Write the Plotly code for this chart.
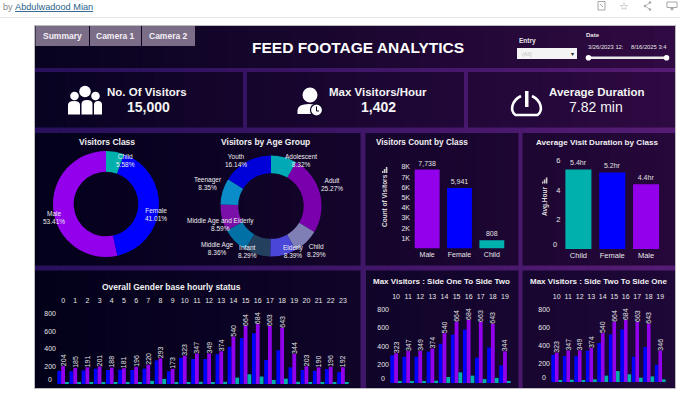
import plotly.graph_objects as go

W, H = 680, 393

# ---------- data ----------
kpi_titles = ["No. Of Visitors", "Max Visitors/Hour", "Average Duration"]
kpi_values = ["15,000", "1,402", "7.82 min"]
tabs = ["Summary", "Camera 1", "Camera 2"]

class_labels = ["Child", "Female", "Male"]
class_values = [5.58, 41.01, 53.41]

age_labels = ["Adolescent", "Adult", "Child", "Elderly", "Infant", "Middle Age",
              "Middle Age and Elderly", "Teenager", "Youth"]
age_values = [8.32, 25.27, 8.29, 8.39, 8.29, 8.36, 8.59, 8.35, 16.14]

count_cats = ["Male", "Female", "Child"]
count_vals = [7738, 5941, 808]
count_ticks = [1000, 2000, 3000, 4000, 5000, 6000, 7000, 8000]
count_ticktext = ["1K", "2K", "3K", "4K", "5K", "6K", "7K", "8K"]

dur_cats = ["Child", "Female", "Male"]
dur_vals = [5.4, 5.2, 4.4]
dur_text = ["5.4hr", "5.2hr", "4.4hr"]

hours = list(range(24))
male_hourly = [204, 185, 191, 201, 188, 181, 196, 220, 293, 173, 323, 347, 349, 374,
               540, 664, 684, 663, 643, 344, 203, 190, 196, 192]
female_hourly = [150, 145, 155, 175, 160, 165, 160, 175, 270, 145, 300, 285, 285, 340,
                 425, 525, 580, 275, 385, 190, 160, 150, 170, 135]
child_hourly = [20, 12, 15, 22, 22, 22, 18, 35, 58, 15, 15, 25, 15, 25,
                73, 111, 85, 46, 61, 25, 22, 12, 20, 18]

side_hours = list(range(10, 20))
side1_male = [323, 347, 349, 374, 540, 664, 684, 663, 643, 344]
side1_female = [300, 285, 285, 340, 425, 525, 580, 275, 385, 190]
side1_child = [15, 22, 15, 25, 65, 115, 80, 42, 55, 22]
side2_male = [323, 347, 349, 374, 540, 664, 684, 663, 643, 346]
side2_female = [300, 285, 285, 345, 430, 525, 580, 280, 385, 190]
side2_child = [18, 25, 18, 29, 70, 121, 85, 48, 62, 29]

PURPLE = "#9200ec"
BLUE = "#0000ff"
TEAL = "#00b0ad"
age_colors = ["#00a9b5", "#7a00ad", "#7f7fb5", "#4a46d8", "#24405f",
              "#0070a5", "#7b10a8", "#0a8cc9", "#0000d8"]
FONT = "Liberation Sans"
TXT = "#e6e6e6"


def X(p):
    return p / W


def Y(p):
    return 1 - p / H


fig = go.Figure()
shapes, ann = [], []


def rect(x0, y0, x1, y1, color, line=None, layer="below"):
    shapes.append(dict(type="rect", xref="paper", yref="paper", x0=X(x0), x1=X(x1), y0=Y(y1), y1=Y(y0),
                       fillcolor=color, line=dict(width=1 if line else 0, color=line), layer=layer))


def seg(x0, y0, x1, y1, color, lw=1):
    shapes.append(dict(type="line", xref="paper", yref="paper", x0=X(x0), x1=X(x1), y0=Y(y0), y1=Y(y1),
                       line=dict(color=color, width=lw)))


def path(points_str, fill="#ffffff", line=None, lw=0):
    shapes.append(dict(type="path", xref="paper", yref="paper", path=points_str,
                       fillcolor=fill, line=dict(width=lw, color=line or "rgba(0,0,0,0)")))


def P(x, y):
    return f"{X(x):.5f},{Y(y):.5f}"


def text(x, y, s, size=10, color=TXT, bold=False, anchor="center", angle=0):
    ann.append(dict(xref="paper", yref="paper", x=X(x), y=Y(y), text=f"<b>{s}</b>" if bold else s,
                    showarrow=False, xanchor=anchor, yanchor="middle", textangle=angle,
                    font=dict(family=FONT, size=size, color=color)))


def lerp(a, b, t):
    return "#%02x%02x%02x" % tuple(int(a[i] + (b[i] - a[i]) * t) for i in range(3))


def gradient(x0, y0, x1, y1, c0, c1, steps=24):
    for i in range(steps):
        t = i / (steps - 1)
        rect(x0 + (x1 - x0) * i / steps, y0,
             min(x1, x0 + (x1 - x0) * (i + 1) / steps + 0.6), y1, lerp(c0, c1, t))


def circle(cx, cy, r, color, line=None, lw=0):
    shapes.append(dict(type="circle", xref="paper", yref="paper", x0=X(cx - r), x1=X(cx + r),
                       y0=Y(cy + r), y1=Y(cy - r), fillcolor=color, line=dict(width=lw, color=line or color)))


L0, L1, T0, T1 = 35, 675, 26, 388
rect(L0 - 1, T0 - 1, L1 + 1, T1 + 1, "#bcbcbc")
gradient(L0, T0, L1, T1, (40, 16, 92), (86, 28, 116), 30)
gradient(L0, T0, L1, 68, (8, 4, 32), (48, 10, 66), 30)

row_right = {72: (46, 10, 66), 133: (38, 8, 58), 270: (30, 8, 56)}
row_left = {72: (9, 3, 34), 133: (3, 1, 28), 270: (3, 1, 26)}
panels = [(35, 72, 243, 127.5), (247, 72, 464, 127.5), (468, 72, 675, 127.5),
          (35, 133, 360.5, 265.5), (365.5, 133, 518.5, 265.5), (522.5, 133, 675, 265.5),
          (35, 270.5, 360.5, 388), (366, 270.5, 518.5, 388), (522.5, 270.5, 675, 388)]
for (a, b, c, d) in panels:
    key = 72 if b == 72 else 133 if b == 133 else 270
    t0, t1 = (a - L0) / (L1 - L0), (c - L0) / (L1 - L0)
    c0 = tuple(row_left[key][i] + (row_right[key][i] - row_left[key][i]) * t0 for i in range(3))
    c1 = tuple(row_left[key][i] + (row_right[key][i] - row_left[key][i]) * t1 for i in range(3))
    gradient(a, b, c, d, c0, c1, 14)

# page header
shapes.append(dict(type="line", xref="paper", yref="paper", x0=0, x1=1, y0=Y(17.5), y1=Y(17.5),
                   line=dict(color="#e3e3e3", width=1), layer="below"))
text(1, 7, "by", 9, "#888888", anchor="left")
ann.append(dict(xref="paper", yref="paper", x=X(13), y=Y(7), text="<u>Abdulwadood Mian</u>", showarrow=False,
                xanchor="left", yanchor="middle", font=dict(family=FONT, size=9.2, color="#2a5f8a")))
GREY = "#a6a6a6"
path(f"M{P(598, 1.5)} L{P(605, 1.5)} L{P(605, 10)} L{P(598, 10)} Z", fill="rgba(0,0,0,0)", line=GREY, lw=1)
seg(600, 4, 603, 7, GREY)
text(624, 6, "☆", 11, GREY)
circle(645, 6, 1.2, GREY)
circle(650, 2.5, 1.2, GREY)
circle(650, 9.5, 1.2, GREY)
seg(645, 6, 650, 2.5, GREY, 0.8)
seg(645, 6, 650, 9.5, GREY, 0.8)
path(f"M{P(667, 2)} L{P(677, 2)} L{P(677, 7.5)} L{P(667, 7.5)} Z", fill="rgba(0,0,0,0)", line=GREY, lw=1)
path(f"M{P(670, 8)} L{P(674, 8)} L{P(672, 11)} Z", fill=GREY)

# tabs
tabx = [(35.5, 89), (90, 141), (142, 195)]
for (a, b), s in zip(tabx, tabs):
    rect(a, 26, b, 46, "#7b6d87")
    text((a + b) / 2, 36, s, 8.5, "#f4f0f6", True)

text(357.5, 47, "FEED FOOTAGE ANALYTICS", 15.5, "#ffffff", True)
text(517, 41, "Entry", 6.5, TXT, True, "left")
rect(517, 48, 577, 59, "#f4f4f4")
text(520, 53.5, "(All)", 5.5, "#bbbbbb", anchor="left")
text(572, 53.5, "▾", 6, "#222222")
text(584, 35.5, "Date", 6, TXT, True, "left")
text(586, 47, "3/26/2023 12:", 5.8, TXT, anchor="left")
text(629, 47, "8/16/2025 3:4", 5.8, TXT, anchor="left")
rect(587, 56.5, 668, 59, "#e8e8e8")
circle(588.5, 57.7, 2.8, "#ffffff")
circle(666.5, 57.7, 2.8, "#ffffff")

# KPI text
for (x, s, v) in zip([147, 378, 596], kpi_titles, kpi_values):
    text(x, 92.5, s, 11.5, "#f4f4f4", True)
    text(x if x != 147 else 148.5, 107, v, 14, "#f4f4f4", v != "7.82 min")


def body(x0, x1, y0, y1):
    m = (x0 + x1) / 2
    path(f"M{P(x0, y1)} L{P(x0, y0 + 4)} Q{P(x0, y0)} {P(m, y0)} Q{P(x1, y0)} {P(x1, y0 + 4)} L{P(x1, y1)} Z")


# visitors icon
circle(85, 91.5, 5.8, "#ffffff")
circle(74.5, 96, 4.3, "#ffffff")
circle(95.5, 96, 4.3, "#ffffff")
body(68, 80, 101, 114.5)
body(81.5, 92.5, 100, 114.5)
body(94, 102, 101, 114.5)

# person with clock icon
circle(310, 95, 7.5, "#ffffff")
path(f"M{P(297.5, 114)} L{P(297.5, 110)} Q{P(298, 104)} {P(309, 104)} Q{P(320, 104)} {P(321, 110)} L{P(321, 114)} Z")
circle(316.5, 110, 6, "#ffffff", "#0d0424", 1.2)
seg(316.5, 111, 316.5, 106.5, "#0d0424")
seg(316.5, 111, 319, 111, "#0d0424")

# gauge icon
path(f"M{P(521, 96)} C{P(511, 101)} {P(510, 111)} {P(515.5, 115)} L{P(537.5, 115)} "
     f"C{P(543, 111)} {P(542, 101)} {P(532, 96)}", fill="rgba(0,0,0,0)", line="#ffffff", lw=2.6)
rect(525, 91, 528.5, 107, "#ffffff", layer="above")

# panel titles
text(106.5, 142, "Visitors Class", 8.5, "#f0f0f0", True)
text(265.5, 142, "Visitors by Age Group", 8.5, "#f0f0f0", True)
text(422, 142, "Visitors Count by Class", 8.2, "#f0f0f0", True)
text(596.5, 142, "Average Visit Duration by Class", 8.1, "#f0f0f0", True)
text(171, 287, "Overall Gender base hourly status", 8.5, "#f0f0f0", True)
text(441, 281.5, "Max Visitors : Side One To Side Two", 8, "#f0f0f0", True)
text(598, 281.5, "Max Visitors : Side Two To Side One", 8, "#f0f0f0", True)


def dom(x0, y0, x1, y1):
    return dict(x=[X(x0), X(x1)], y=[Y(y1), Y(y0)])


fig.add_trace(go.Pie(labels=class_labels, values=class_values, hole=0.61, sort=False, direction="clockwise",
                     rotation=0, marker=dict(colors=[TEAL, BLUE, PURPLE], line=dict(width=0)),
                     textinfo="none", domain=dom(53, 151, 159, 257), showlegend=False))
fig.add_trace(go.Pie(labels=age_labels, values=age_values, hole=0.65, sort=False, direction="clockwise",
                     rotation=0, marker=dict(colors=age_colors, line=dict(width=0)),
                     textinfo="none", domain=dom(220.5, 155.5, 321.5, 256.5), showlegend=False))

for x, y, l in [(125, 160, "Child<br>5.58%"), (156, 215, "Female<br>41.01%"), (54, 218, "Male<br>53.41%"),
                (300.5, 160, "Adolescent<br>8.32%"), (332, 185, "Adult<br>25.27%"), (316.5, 250, "Child<br>8.29%"),
                (293, 252, "Elderly<br>8.39%"), (247.5, 252, "Infant<br>8.29%"), (217.5, 249, "Middle Age<br>8.36%"),
                (220, 225, "Middle Age and Elderly<br>8.59%"), (207.5, 183, "Teenager<br>8.35%"),
                (235.5, 160, "Youth<br>16.14%")]:
    ann.append(dict(xref="paper", yref="paper", x=X(x), y=Y(y), text=l, showarrow=False, xanchor="center",
                    yanchor="middle", font=dict(family=FONT, size=6.5, color="#eeeeee")))

layout_axes = {}


def bar_panel(idx, x0, y0, x1, y1, cats, series, yr, ticks, ticktext=None, top_axis=False, width=None, fs=7):
    sx = "" if idx == 1 else str(idx)
    axis_font = dict(family=FONT, size=fs, color="#e6e6e6")
    for vals, color, txt, ta in series:
        fig.add_trace(go.Bar(x=cats, y=vals, marker=dict(color=color, line=dict(width=0)), text=txt, width=width,
                             textposition="outside" if txt is not None else None, textangle=ta,
                             cliponaxis=False, constraintext="none",
                             textfont=dict(family=FONT, size=7, color="#e0e0e0"),
                             xaxis=f"x{sx}", yaxis=f"y{sx}", showlegend=False))
    layout_axes[f"xaxis{sx}"] = dict(domain=[X(x0), X(x1)], anchor=f"y{sx}", type="category",
                                     side="top" if top_axis else "bottom", showgrid=False, showline=False,
                                     ticks="", tickfont=axis_font, tickangle=0, zeroline=False,
                                     automargin=False)
    layout_axes[f"yaxis{sx}"] = dict(domain=[Y(y1), Y(y0)], anchor=f"x{sx}", range=yr, tickvals=ticks,
                                     ticktext=ticktext, showgrid=False, showline=False, zeroline=False,
                                     ticks="", tickfont=axis_font, automargin=False)


# Count by class
bar_panel(1, 411, 164.9, 508, 248.5, count_cats,
          [(count_vals, [PURPLE, BLUE, TEAL], [f"{v:,}" for v in count_vals], 0)],
          [0, 8200], count_ticks, count_ticktext, width=0.77)
# Duration by class
bar_panel(2, 561.5, 160.6, 663, 249, dur_cats, [(dur_vals, [TEAL, BLUE, PURPLE], dur_text, 0)],
          [0, 6], [2, 4, 6], None, width=0.77, fs=7.5)
text(559, 244, "0", 7.5, "#e6e6e6", anchor="right")
# hourly
hx = [str(h) for h in hours]
bar_panel(3, 57, 305, 349, 384, hx,
          [(female_hourly, BLUE, None, 0),
           (male_hourly, PURPLE, [str(v) for v in male_hourly], -90),
           (child_hourly, TEAL, None, 0)],
          [0, 903], [200, 400, 600, 800], None, top_axis=True)
text(54, 379, "0", 7, "#e6e6e6", anchor="right")
sx = [str(h) for h in side_hours]
bar_panel(4, 390, 301, 511, 383, sx,
          [(side1_female, BLUE, None, 0),
           (side1_male, PURPLE, [str(v) for v in side1_male], -90),
           (side1_child, TEAL, None, 0)],
          [0, 890], [200, 400, 600, 800], None, top_axis=True)
text(387, 378.5, "0", 7, "#e6e6e6", anchor="right")
bar_panel(5, 551, 301, 666, 382, sx,
          [(side2_female, BLUE, None, 0),
           (side2_male, PURPLE, [str(v) for v in side2_male], -90),
           (side2_child, TEAL, None, 0)],
          [0, 894], [200, 400, 600, 800], None, top_axis=True)
text(548, 377, "0", 7, "#e6e6e6", anchor="right")

text(385, 201, "Count of Visitors", 6.5, "#dddddd", True, angle=-90)
text(545, 202, "Avg.Hour", 6.5, "#dddddd", True, angle=-90)
# small sort indicators above the axis titles
for cx, cy in [(385, 170), (545, 180.5)]:
    rect(cx - 3, cy + 1, cx - 1.6, cy + 3, "#cccccc", layer="above")
    rect(cx - 1.2, cy - 1, cx + 0.4, cy + 3, "#cccccc", layer="above")
    rect(cx + 0.8, cy - 3, cx + 2.4, cy + 3, "#cccccc", layer="above")

fig.update_layout(width=W, height=H, margin=dict(l=0, r=0, t=0, b=0), paper_bgcolor="#ffffff",
                  plot_bgcolor="rgba(0,0,0,0)", shapes=shapes, annotations=ann, barmode="group",
                  bargap=0.06, bargroupgap=0, **layout_axes)

fig.write_html("out.html", config=dict(displayModeBar=False),
               post_script="document.body.style.margin='0';document.body.style.overflow='hidden';")
